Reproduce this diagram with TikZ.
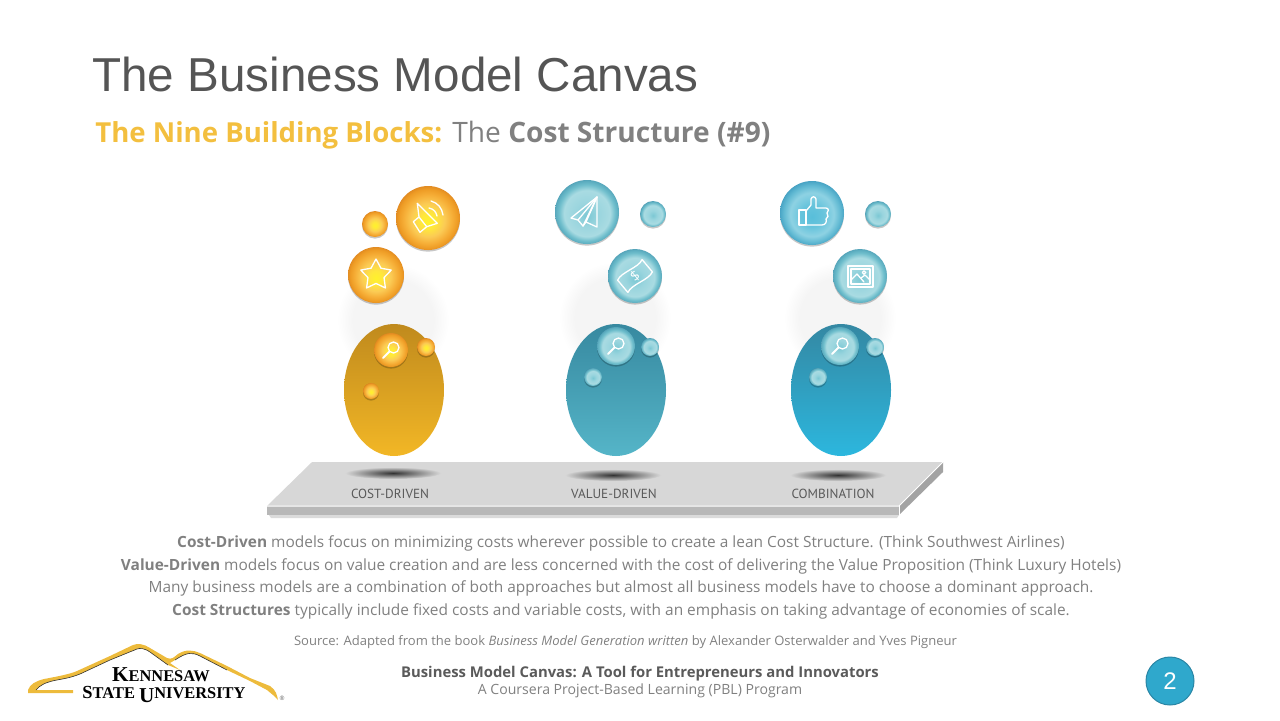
\documentclass[tikz,border=0pt]{standalone}
\usepackage{fontspec}
\setmainfont{Open Sans}
\newfontfamily\headfont{Liberation Sans}
\newfontfamily\labelfont{PT Sans}
\newfontfamily\logofont{Liberation Serif}
\usetikzlibrary{shapes.geometric,shadows}
\definecolor{titlegray}{HTML}{555555}
\definecolor{bodygray}{HTML}{808080}
\definecolor{footgray}{HTML}{5A5A5A}
\definecolor{subgold}{HTML}{F3BF3F}
\definecolor{platetop}{HTML}{D7D7D7}
\definecolor{logogold}{HTML}{EDBB3C}
\definecolor{halogray}{HTML}{F5F5F5}
\definecolor{golda}{HTML}{FFF22B}
\definecolor{goldb}{HTML}{FFE73C}
\definecolor{goldc}{HTML}{FBCB55}
\definecolor{goldd}{HTML}{F6AE37}
\definecolor{golde}{HTML}{EE9C25}
\definecolor{goldf}{HTML}{D97F1F}
\definecolor{teala}{HTML}{7CC8D4}
\definecolor{tealb}{HTML}{9AD5DE}
\definecolor{tealc}{HTML}{A9DBE2}
\definecolor{teald}{HTML}{6FBECC}
\definecolor{teale}{HTML}{58A9BD}
\definecolor{tealf}{HTML}{3F86A2}
\definecolor{bluea}{HTML}{58BEDA}
\definecolor{blueb}{HTML}{68C4DC}
\definecolor{bluec}{HTML}{8ED2E3}
\definecolor{blued}{HTML}{62BAD3}
\definecolor{bluee}{HTML}{4AA6C6}
\definecolor{bluef}{HTML}{3585AC}
\definecolor{eggcosttop}{HTML}{C08A1D}
\definecolor{eggcostend}{HTML}{F2B726}
\definecolor{eggvaluetop}{HTML}{3789A0}
\definecolor{eggvalueend}{HTML}{55B5C8}
\definecolor{eggcombtop}{HTML}{3488A3}
\definecolor{eggcombend}{HTML}{2CB7DE}
\definecolor{pagefill}{HTML}{2FA8CC}
\definecolor{pageedge}{HTML}{2A86A5}
\pgfdeclareradialshading{goldball}{\pgfpoint{0bp}{-3bp}}{color(0bp)=(golda); color(6bp)=(goldb); color(13bp)=(goldc); color(19bp)=(goldd); color(23bp)=(golde); color(27bp)=(goldf)}
\pgfdeclareradialshading{tealball}{\pgfpoint{0bp}{-3bp}}{color(0bp)=(teala); color(9bp)=(tealb); color(18bp)=(tealc); color(22bp)=(teald); color(25bp)=(teale); color(28bp)=(tealf)}
\pgfdeclareradialshading{blueball}{\pgfpoint{0bp}{-3bp}}{color(0bp)=(bluea); color(9bp)=(blueb); color(17bp)=(bluec); color(22bp)=(blued); color(25bp)=(bluee); color(28bp)=(bluef)}
\pgfdeclareradialshading{haloshade}{\pgfpointorigin}{color(0bp)=(halogray); color(18bp)=(halogray); color(25bp)=(white)}
\tikzset{
  ball/.style={circle,inner sep=0pt,shade,drop shadow={shadow xshift=0pt,shadow yshift=-.8pt,opacity=.22,fill=black}},
  goldbubble/.style={ball,shading=goldball},
  tealbubble/.style={ball,shading=tealball},
  bluebubble/.style={ball,shading=blueball},
  egg/.style={ellipse,inner sep=0pt,minimum width=50pt,minimum height=66pt,shading angle=25},
  halo/.style={circle,inner sep=0pt,minimum size=56pt,shade,shading=haloshade},
  spot/.style={ellipse,inner sep=0pt,minimum width=48pt,minimum height=6pt,shade,inner color=black!80,outer color=platetop},
  platelabel/.style={text=black!65,font=\labelfont\fontsize{6.6}{8}\selectfont},
  iconline/.style={draw=white,line width=.65pt,line join=round,line cap=round},
  magglass/.pic={
    \draw[iconline] (2.5,-2.5) circle (5.5);
    \draw[iconline,line width=1pt] (-1.5,1.5) -- (-8,8);
  }
}
\begin{document}
\begin{tikzpicture}[x=.5pt,y=-.5pt]
\useasboundingbox (0,0) rectangle (1280,720);
% heading
\node[anchor=base west,inner sep=0pt,text=titlegray,font=\headfont\fontsize{23.8}{28}\selectfont] (title) at (92,91) {The Business Model Canvas};
\node[anchor=base west,inner sep=0pt,text=subgold,font=\bfseries\fontsize{13.78}{17}\selectfont] (subtitle) at (95,142) {The Nine Building Blocks:};
\node[anchor=base west,inner sep=0pt,text=bodygray,font=\fontsize{14.05}{17}\selectfont] (subtitleb) at (452,142) {The \textbf{Cost Structure (\#9)}};
% halos behind the eggs
\node[halo] (halocost) at (393,320) {};
\node[halo] (halovalue) at (615,318) {};
\node[halo] (halocomb) at (840,318) {};
% platform
\fill[black!14] (269,515) -- (899,515) -- (897,518) -- (271,518) -- cycle;
\fill[platetop] (312,462) -- (943,462) -- (899,506) -- (267,506) -- cycle;
\fill[black!28] (267,506) -- (899,506) -- (899,515) -- (267,515) -- cycle;
\fill[black!36] (899,506) -- (943,462) -- (943,472) -- (899,515) -- cycle;
\draw[white,line width=.5pt] (267,506) -- (899,506) -- (943,462);
\draw[white,line width=.4pt] (899,506) -- (899,515);
\node[spot] (spotcost) at (393,473) {};
\node[spot] (spotvalue) at (613,475) {};
\node[spot] (spotcomb) at (838,475) {};
\node[platelabel] (labelcost) at (390,494) {COST-DRIVEN};
\node[platelabel] (labelvalue) at (614,494) {VALUE-DRIVEN};
\node[platelabel] (labelcomb) at (833,494) {COMBINATION};
% eggs
\node[egg,top color=eggcosttop,bottom color=eggcostend] (eggcost) at (394,390) {};
\node[egg,top color=eggvaluetop,bottom color=eggvalueend] (eggvalue) at (616,390) {};
\node[egg,top color=eggcombtop,bottom color=eggcombend] (eggcomb) at (841,390) {};
% cost-driven bubbles
\node[goldbubble,minimum size=32pt] (speaker) at (428,218) {};
\node[goldbubble,minimum size=13pt] (dropa) at (375,224) {};
\node[goldbubble,minimum size=28pt] (bigstar) at (376,275) {};
\node[goldbubble,minimum size=17pt] (glasscost) at (391,350) {};
\node[goldbubble,minimum size=9pt] (dropb) at (426,347) {};
\node[goldbubble,minimum size=8pt] (dropc) at (371,391) {};
% value-driven bubbles
\node[tealbubble,minimum size=32pt] (plane) at (587,212) {};
\node[tealbubble,minimum size=13pt] (dropd) at (653,214) {};
\node[tealbubble,minimum size=27pt] (money) at (635,276) {};
\node[tealbubble,minimum size=19pt] (glassvalue) at (616,346) {};
\node[tealbubble,minimum size=9pt] (drope) at (650,347) {};
\node[tealbubble,minimum size=9pt] (dropf) at (593,377) {};
% combination bubbles
\node[bluebubble,minimum size=32pt] (thumb) at (812,213) {};
\node[tealbubble,minimum size=13pt] (dropg) at (878,214) {};
\node[tealbubble,minimum size=27pt] (image) at (860,276) {};
\node[tealbubble,minimum size=19pt] (glasscomb) at (840,346) {};
\node[tealbubble,minimum size=9pt] (droph) at (875,347) {};
\node[tealbubble,minimum size=9pt] (dropi) at (818,377) {};
% icons
\pic at (391,350) {magglass};
\pic at (616,346) {magglass};
\pic at (840,346) {magglass};
\node[star,star points=5,star point ratio=1.9,minimum size=16pt,inner sep=0pt,iconline] (staricon) at (376,275) {};
\begin{scope}[shift={(428,218)}]
\draw[iconline] (-10.7,-14.7) -- (9.3,5.3) -- (-1.3,8.7) -- (-8,14.3) -- (-14.7,3.7) -- (-9,-1) -- cycle;
\draw[iconline] (-9,-1) -- (-1.3,8.7);
\draw[iconline] (1,-10) .. controls (6,-9) and (8,-6) .. (9,-2);
\draw[iconline] (3,-17) .. controls (10,-15) and (14,-10) .. (15,-3);
\end{scope}
\begin{scope}[shift={(587,212)}]
\draw[iconline] (10,-15) -- (-16,6) -- (-9,8) -- (-4,14) -- (-1,10) -- (10,15) -- cycle;
\draw[iconline] (10,-15) -- (-9,8);
\draw[iconline] (10,-15) -- (-4,14);
\draw[iconline] (10,-15) -- (-1,10);
\end{scope}
\begin{scope}[shift={(635,276)},rotate=40]
\draw[iconline] (-16,-8) .. controls (-8,-12) and (8,-4) .. (16,-8) -- (16,8) .. controls (8,12) and (-8,4) .. (-16,8) -- cycle;
\node[rotate=40,inner sep=0pt,text=white,font=\fontsize{7}{8}\selectfont] (dollar) at (0,0) {\$};
\end{scope}
\begin{scope}[shift={(812,213)}]
\draw[iconline] (-13,-3) rectangle (-6,12);
\draw[iconline] (-6,-2) -- (-1,-8) -- (-1,-14) .. controls (0,-17) and (3,-17) .. (4,-14) -- (4,-5) -- (14,-5) .. controls (17,-5) and (17,-1) .. (15,0) .. controls (17,2) and (16,5) .. (14,6) .. controls (15,8) and (14,12) .. (10,12) -- (-6,12);
\end{scope}
\begin{scope}[shift={(860,276)}]
\draw[iconline] (-12,-10) rectangle (13,11);
\draw[iconline] (-9,-7) rectangle (10,8);
\draw[iconline] (-9,4) -- (-3,-2) -- (4,6);
\draw[iconline] (1,2) -- (5,-1) -- (10,4);
\draw[iconline] (4,-3.5) circle (1.8);
\end{scope}
% body text
\node[align=center,inner sep=0pt,text=bodygray,font=\fontsize{7.72}{11.25}\selectfont] (bodytext) at (621,577.5) {%
\textbf{Cost-Driven} models focus on minimizing costs wherever possible to create a lean Cost Structure. (Think Southwest Airlines)\\
\textbf{Value-Driven} models focus on value creation and are less concerned with the cost of delivering the Value Proposition (Think Luxury Hotels)\\
Many business models are a combination of both approaches but almost all business models have to choose a dominant approach.\\
\textbf{Cost Structures} typically include fixed costs and variable costs, with an emphasis on taking advantage of economies of scale.};
\node[inner sep=0pt,text=bodygray,font=\fontsize{6.52}{8}\selectfont] (source) at (625.5,642) {Source: Adapted from the book \textit{Business Model Generation written} by Alexander Osterwalder and Yves Pigneur};
\node[inner sep=0pt,text=footgray,font=\fontsize{7.42}{9}\selectfont] (foota) at (640,674) {\textbf{Business Model Canvas: A Tool for Entrepreneurs and Innovators}};
\node[inner sep=0pt,text=bodygray,font=\fontsize{7.04}{8}\selectfont] (footb) at (640,691) {A Coursera Project-Based Learning (PBL) Program};
% page number
\node[circle,minimum size=24pt,inner sep=0pt,fill=pagefill,draw=pageedge,line width=.5pt,text=white,font=\headfont\fontsize{12}{14}\selectfont] (pagenum) at (1170,681) {2};
% logo
\fill[logogold] (28,690) .. controls (30,684) and (36,681) .. (44,679) .. controls (60,676) and (70,674) .. (77,671) -- (110,656) -- (133,645) .. controls (138,643) and (144,644) .. (150,648) -- (167,658) .. controls (172,660) and (174,657) .. (178,654) .. controls (186,649) and (193,650) .. (200,653) -- (227,666) -- (250,678) -- (270,686) .. controls (276,690) and (277,695) .. (278,700) .. controls (276,697) and (274,696) .. (267,690) -- (250,681) -- (227,670) -- (200,656) .. controls (192,652) and (187,652) .. (175,660) -- (170,663) -- (180,670) -- (168,665) -- (150,652) .. controls (144,648) and (140,648) .. (137,649) -- (110,660) -- (80,674) .. controls (70,678) and (62,679) .. (57,680) .. controls (46,682) and (40,685) .. (36,690) -- (73,690) -- (73,693) -- (28,693) -- cycle;
\draw[black!80,line width=.3pt] (36,690) .. controls (40,685) and (46,682) .. (57,680) .. controls (62,679) and (70,678) .. (80,674) -- (110,660) -- (137,649) .. controls (140,648) and (144,648) .. (150,652) -- (168,665);
\draw[black!80,line width=.3pt] (175,660) .. controls (187,652) and (192,652) .. (200,656) -- (227,670);
\node[inner sep=0pt,anchor=base,text=black,font=\logofont\bfseries\fontsize{8.2}{9}\selectfont] (logoa) at (161,681.5) {{\fontsize{10.6}{12}\selectfont K}ENNESAW};
\node[inner sep=0pt,anchor=base,text=black,font=\logofont\bfseries\fontsize{8.2}{9}\selectfont] (logob) at (164,698) {{\fontsize{9.2}{11}\selectfont S}TATE \raisebox{-2pt}{\fontsize{10.6}{11}\selectfont U}NIVERSITY};
\node[inner sep=0pt,text=black!60,font=\fontsize{3}{3}\selectfont] (logoc) at (282,698) {®};
\end{tikzpicture}
\end{document}
